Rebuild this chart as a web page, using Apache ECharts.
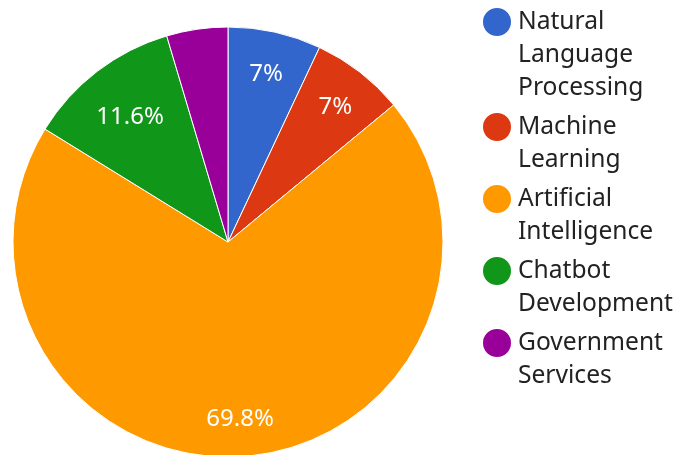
<!DOCTYPE html>
<html>
<head>
<meta charset="utf-8">
<script src="https://cdn.jsdelivr.net/npm/echarts@6/dist/echarts.min.js"></script>
<style>html,body{margin:0;padding:0;background:#fff;}#c{width:675px;height:455px;}</style>
</head>
<body>
<div id="c"></div>
<script>
const categories = ['Natural Language Processing', 'Machine Learning', 'Artificial Intelligence', 'Chatbot Development', 'Government Services'];
const values = [7, 7, 69.8, 11.6, 4.6];
const colors = ['#3366cc', '#dc3912', '#ff9900', '#109618', '#990099'];

const FONT = '"Noto Sans", sans-serif';
const LH = 33;
const R = 215;
const CENTER = [228, 242];

const chart = echarts.init(document.getElementById('c'), null, {renderer: 'canvas'});

// legend label: one word per line, with blank lines above so the first word sits beside the icon
function legendText(n) {
  const words = n.split(' ');
  return '\n'.repeat(words.length - 1) + words.join('\n');
}

const total = values.reduce((a, b) => a + b, 0);
function labelOffset(i) {
  let dx = 0, dy = 3;
  // pull wider labels slightly toward the centre
  if (values[i] / total > 0.1 && values[i] / total < 0.2) {
    let start = 90;
    for (let k = 0; k < i; k++) start -= values[k] / total * 360;
    const mid = (start - values[i] / total * 180) * Math.PI / 180;
    const d = 14;
    dx += Math.cos(mid) * -d;
    dy += Math.sin(mid) * d;
  }
  return [dx, dy];
}

chart.setOption({
  animation: false,
  color: colors,
  legend: {
    orient: 'vertical',
    left: 481,
    top: -60.5,
    height: 600,
    padding: 0,
    itemGap: -27,
    itemWidth: 30,
    itemHeight: 30,
    icon: 'circle',
    selectedMode: false,
    data: categories,
    formatter: legendText,
    textStyle: {fontFamily: FONT, fontSize: 24.6, color: '#222222', lineHeight: LH, padding: [0, 0, 0, 1]}
  },
  series: [
    {
      type: 'pie',
      center: CENTER,
      radius: [0, R],
      startAngle: 90,
      clockwise: true,
      silent: true,
      label: {show: false},
      labelLine: {show: false},
      itemStyle: {borderColor: '#ffffff', borderWidth: 1},
      data: categories.map((n, i) => ({name: n, value: values[i]}))
    },
    {
      type: 'pie',
      center: CENTER,
      radius: [R * 0.6, R],
      startAngle: 90,
      clockwise: true,
      silent: true,
      itemStyle: {color: 'rgba(0,0,0,0)'},
      label: {
        show: true,
        position: 'inside',
        fontFamily: FONT,
        fontSize: 24,
        color: '#ffffff',
        formatter: p => p.percent < 5 ? '' : (+p.percent.toFixed(1)) + '%'
      },
      labelLine: {show: false},
      data: categories.map((n, i) => ({name: n, value: values[i], label: {offset: labelOffset(i)}}))
    }
  ]
});
</script>
</body>
</html>
